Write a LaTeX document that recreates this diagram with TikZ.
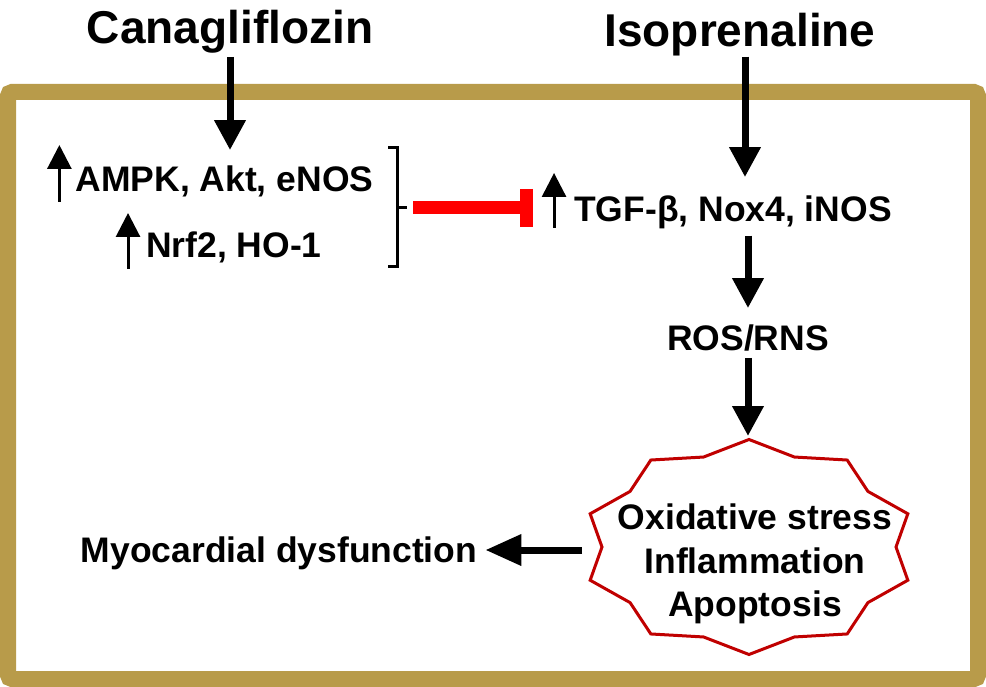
\documentclass[tikz,border=0pt]{standalone}
\usepackage{fontspec}
\setmainfont{Liberation Sans}
\usepackage{tikz}
\usetikzlibrary{arrows.meta,positioning,calc}

\definecolor{framegold}{RGB}{184,155,74}
\definecolor{burstred}{RGB}{192,0,0}
\definecolor{blockred}{RGB}{255,0,0}

\begin{document}
\begin{tikzpicture}[
    x=1pt, y=-1pt,
    drugname/.style={inner sep=0pt, font=\fontsize{46}{50}\selectfont\bfseries},
    factor/.style={inner sep=0pt, font=\fontsize{35.5}{43.5}\selectfont\bfseries, align=center},
    fat/.style={-{Triangle[width=30pt,length=30pt]}, line width=7pt},
    uparr/.style={-{Triangle[width=24pt,length=24pt]}, line width=3pt},
    brace/.style={line width=3pt},
    inhibit/.style={-{Bar[width=38pt]}, line width=13pt, blockred},
    starline/.style={line width=3pt, burstred, line join=miter}
]
\useasboundingbox (0,0) rectangle (986,687);

% cell border
\draw[line width=16pt, framegold, rounded corners=4pt] (8,92) rectangle (978,679);

\node[drugname, anchor=base] (cana) at (230,44) {Canagliflozin};
\node[drugname, anchor=base] (iso) at (740,47) {Isoprenaline};

\node[factor, anchor=base] (ampk) at (224.5,192) {AMPK, Akt, eNOS};
\node[factor, anchor=base] (nrf) at (234,258) {Nrf2, HO-1};
\node[factor, anchor=base] (tgf) at (733,222) {TGF-β, Nox4, iNOS};
\node[factor, anchor=base] (ros) at (748,350) {ROS/RNS};
\node[factor] (stress) at (755,564) {Oxidative stress\\Inflammation\\Apoptosis};
\node[factor, anchor=base] (dys) at (279,562) {Myocardial dysfunction};

% starburst round the stress node
\coordinate (burst) at (749,547);
\draw[starline, shift={(burst)}] (90:167pt and 107.5pt)
    \foreach \k in {0,...,8} { -- ({108+36*\k}:147pt and 94.6pt) -- ({126+36*\k}:167pt and 107.5pt) }
    -- (432:147pt and 94.6pt) -- cycle;
\coordinate (bursttop) at (749,440);
\coordinate (burstw) at (582,550);

% up arrows
\draw[uparr] ($(ampk.base west)+(-16,10)$) -- ++(0,-57);
\draw[uparr] ($(nrf.base west)+(-18,11)$) -- ++(0,-56);
\draw[uparr] ($(tgf.base west)+(-20,6)$) -- ++(0,-55);

% bracket and block
\draw[brace] (388,148) -| (397,267) -- (388,267);
\draw[brace] (397,208) -- (407,208) coordinate (brk);
\coordinate (blk) at (533,208);
\draw[inhibit, shorten <=6pt] (brk) -- (blk);

\draw[fat, shorten <=3pt, shorten >=16pt] (cana.south) -- (cana.south |- ampk.north);
\draw[fat, shorten >=19pt] ([xshift=5pt]iso.south) -- ([xshift=5pt]iso.south |- tgf.north);
\draw[fat, shorten <=6pt, shorten >=16pt] (tgf.south -| ros) -- (ros.north);
\draw[fat, shorten <=7pt, shorten >=4pt] (ros.south) -- (ros.south |- bursttop);
\draw[fat, -{Triangle[width=30pt,length=36pt]}, shorten >=8pt] (burstw) -- (dys.east |- burstw);

\end{tikzpicture}
\end{document}
